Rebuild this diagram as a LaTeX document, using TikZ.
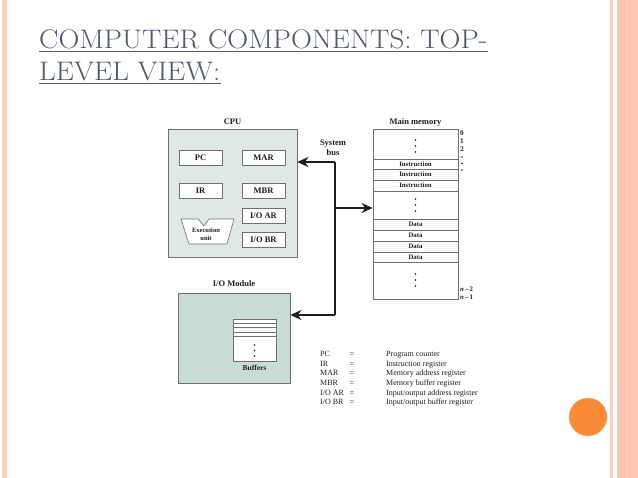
\documentclass[tikz,border=0pt]{standalone}
\usepackage{fontspec}
\usepackage{tikz}
\usetikzlibrary{arrows.meta,positioning,calc}
\newfontfamily\diag{Liberation Serif}
\definecolor{Ink}{HTML}{1E1E1E}
\definecolor{Edge}{HTML}{707070}
\definecolor{CpuFill}{HTML}{DFE8E5}
\definecolor{IoFill}{HTML}{C9DBD7}
\definecolor{Heading}{HTML}{525A68}
\definecolor{Stripe}{HTML}{F8CFC0}
\definecolor{StripeDark}{HTML}{FDC6B1}
\definecolor{Accent}{HTML}{F98A37}
\newcommand\lab{\diag\bfseries\fontsize{8.5}{10}\selectfont}
\newcommand\cell{\diag\bfseries\fontsize{6.8}{8}\selectfont}
\newcommand\leg{\diag\fontsize{8}{9}\selectfont}

\begin{document}
\begin{tikzpicture}[x=1pt,y=-1pt,
  reg/.style={draw=Edge,fill=white,line width=0.6pt,minimum width=43pt,
    minimum height=15pt,inner sep=0pt,font=\lab,text=Ink},
  part/.style={draw=Edge,line width=0.7pt,inner sep=0pt},
  caption/.style={font=\lab,text=Ink,inner sep=0pt},
  row/.style={font=\cell,text=Ink,inner sep=0pt},
  heading/.style={anchor=base west,inner sep=0pt,text=Heading,
    font=\fontsize{26.8}{32}\selectfont},
  bus/.style={line width=2.6pt,Ink},
  tip/.style={-{Stealth[length=11pt,width=10pt,inset=3.5pt]}}]
  \fill[white] (0,0) rectangle (638,478);
  \useasboundingbox (0,0) rectangle (638,478);
  \fill[Stripe] (2,0) rectangle (7,478);
  \fill[Stripe] (610,0) rectangle (612.5,478);
  \fill[StripeDark] (616.5,0) rectangle (638,478);
  \fill[Stripe!80!StripeDark] (619.5,0) rectangle (621,478);
  \fill[Stripe!80!StripeDark] (626,0) rectangle (628,478);
  \fill[Accent,draw=Accent!60!white,line width=0.5pt] (588,417) circle[radius=19pt];

  \node[heading] (t1) at (39,49) {\scalebox{1.08}[1]{COMPUTER COMPONENTS: TOP-}};
  \node[heading] (t2) at (39,81) {\scalebox{1.08}[1]{LEVEL VIEW:}};
  \draw[Heading,line width=0.9pt] ([yshift=-2.8pt]t1.base west) -- ([yshift=-2.8pt]t1.base east);
  \draw[Heading,line width=0.9pt] ([yshift=-2.8pt]t2.base west) -- ([yshift=-2.8pt]t2.base east);

  \node[part,fill=CpuFill,minimum width=129pt,minimum height=128pt] (cpu) at (232.5,193) {};
  \node[caption] at (232.5,122) {CPU};
  \node[reg] (pc) at (200.5,157.5) {PC};
  \node[reg] (mar) at (263.5,157.5) {MAR};
  \node[reg] (ir) at (200.5,190.5) {IR};
  \node[reg] (mbr) at (263.5,190.5) {MBR};
  \node[reg] (ioar) at (263.5,215.5) {I/O AR};
  \node[reg] (iobr) at (263.5,240) {I/O BR};
  \draw[Edge,fill=white,line width=0.6pt] (181,219) -- (198,219) -- (204,226) -- (209,219)
    -- (234,219) -- (227,244) -- (189,244) -- cycle;
  \node[row,align=center,font=\diag\bfseries\fontsize{6.5}{8}\selectfont] (exu) at (206,234) {Execution\\unit};

  \node[part,fill=white,minimum width=85pt,minimum height=170pt] (mem) at (415.5,214) {};
  \node[caption] at (415.5,122) {Main memory};
  \foreach \y in {159,169,180,191,219,230,241,252,262}
    \draw[Edge,line width=0.6pt] (mem.west |- 0,\y) -- (mem.east |- 0,\y);
  \foreach \y in {164,174.5,185.5}
    \node[row] at (415.5,\y) {Instruction};
  \foreach \y in {224.5,235.5,246.5,257}
    \node[row] at (415.5,\y) {Data};
  \foreach \y in {140,146,152,199,205,211,274,280,286}
    \fill[Ink] (415.5,\y) circle[radius=0.9pt];
  \node[row,font=\diag\bfseries\fontsize{7.2}{8}\selectfont] at (462,133) {0};
  \node[row,font=\diag\bfseries\fontsize{7.2}{8}\selectfont] at (462,141.5) {1};
  \node[row,font=\diag\bfseries\fontsize{7.2}{8}\selectfont] at (462,149) {2};
  \foreach \y in {157,163.5,170}
    \fill[Ink] (462,\y) circle[radius=0.8pt];
  \node[row,anchor=west] at (460,289) {\itshape n\upshape\,–\,2};
  \node[row,anchor=west] at (460,297.5) {\itshape n\upshape\,–\,1};

  \node[part,fill=IoFill,minimum width=112pt,minimum height=90pt] (io) at (234,338) {};
  \node[caption] at (234,284) {I/O Module};
  \node[part,fill=white,line width=0.6pt,minimum width=43pt,minimum height=42pt] (buf) at (254.5,340) {};
  \foreach \y in {323,327.5,332,336.5}
    \draw[Edge,line width=0.6pt] (buf.west |- 0,\y) -- (buf.east |- 0,\y);
  \foreach \y in {345,350.5,356}
    \fill[Ink] (254.5,\y) circle[radius=0.9pt];
  \node[row,font=\diag\bfseries\fontsize{7.5}{8}\selectfont] at (254.5,368) {Buffers};

  \node[caption,align=center] (sb) at (333,147.5) {System\\bus};
  \coordinate (bt) at (335,162);
  \coordinate (bm) at (335,208);
  \coordinate (bb) at (335,315);
  \draw[bus] (bt) -- (bb);
  \draw[bus,tip] (bt) -- (bt -| cpu.east);
  \draw[bus,tip] (bm) -- (bm -| mem.west);
  \draw[bus,tip] (bb) -- (bb -| io.east);

  \foreach \a/\m [count=\i] in {PC/Program counter,IR/Instruction register,
      MAR/Memory address register,MBR/Memory buffer register,
      {I/O AR}/{Input/output address register},{I/O BR}/{Input/output buffer register}}{
    \pgfmathsetmacro\y{356.5+9.7*(\i-1)}
    \node[anchor=base west,inner sep=0pt,font=\leg,text=Ink] at (320,\y) {\a};
    \node[anchor=base,inner sep=0pt,font=\leg,text=Ink] at (352,\y) {=};
    \node[anchor=base west,inner sep=0pt,font=\leg,text=Ink] at (386,\y) {\m};
  }
\end{tikzpicture}
\end{document}
